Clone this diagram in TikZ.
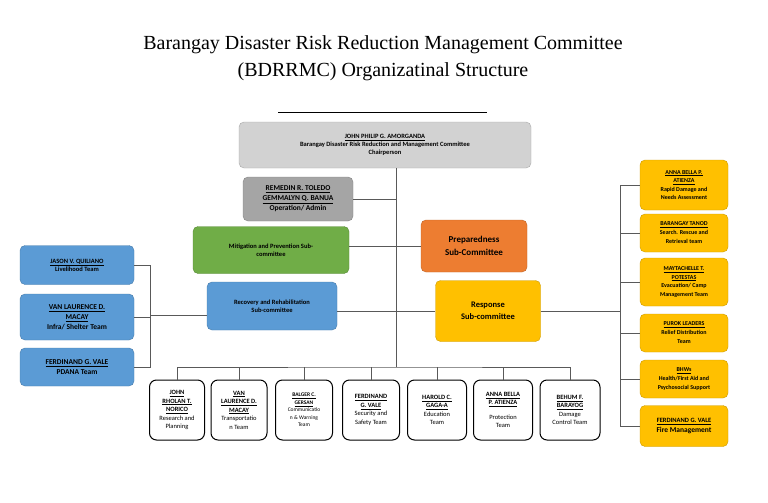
\documentclass[tikz,border=0pt]{standalone}
\usepackage{fontspec}
\setmainfont{Carlito}
\newfontfamily\titlefont{Liberation Serif}
\begin{document}
\begin{tikzpicture}[x=1pt,y=-1pt,
 box/.style={rounded corners=5pt,draw=#1!80!black,line width=0.4pt,fill=#1,align=center,inner sep=1pt,font=\fontsize{6.5}{8}\selectfont\bfseries},
 team/.style={rounded corners=7pt,draw=black,line width=1pt,fill=white,align=center,inner sep=1pt,font=\fontsize{6.5}{8.5}\selectfont},
 ln/.style={draw=gray!70!black,line width=0.6pt}]
\definecolor{cgray}{RGB}{210,210,210}
\definecolor{cdgray}{RGB}{165,165,165}
\definecolor{cgreen}{RGB}{112,173,71}
\definecolor{corange}{RGB}{237,125,49}
\definecolor{cblue}{RGB}{91,155,213}
\definecolor{cyellow}{RGB}{255,192,0}
\useasboundingbox (0,0) rectangle (768,503);
\node[font=\titlefont\fontsize{20}{27}\selectfont,align=center] (title) at (383,58) {Barangay Disaster Risk Reduction Management Committee\\(BDRRMC) Organizatinal Structure};
\coordinate (ula) at (278,112); \coordinate (ulb) at (487,112);
\draw[line width=0.6pt] (ula) -- (ulb);
% main boxes
\node[box=cgray,minimum width=292,minimum height=46] (chair) at (385,145) {\underline{JOHN PHILIP G. AMORGANDA}\\Barangay Disaster Risk Reduction and Management Committee\\Chairperson};
\node[box=cdgray,minimum width=110,minimum height=44,font=\fontsize{7.5}{10}\selectfont\bfseries] (ops) at (298,199) {\underline{REMEDIN R. TOLEDO}\\\underline{GEMMALYN Q. BANUA}\\Operation/ Admin};
\node[box=cgreen,minimum width=156,minimum height=47] (mit) at (271,250) {Mitigation and Prevention Sub-\\committee};
\node[box=corange,minimum width=106,minimum height=52,font=\fontsize{9}{13}\selectfont\bfseries] (prep) at (474,246) {Preparedness\\Sub-Committee};
\node[box=cblue,minimum width=130,minimum height=48] (rec) at (272,306) {Recovery and Rehabilitation\\Sub-committee};
\node[box=cyellow,minimum width=105,minimum height=61,font=\fontsize{8.5}{12}\selectfont\bfseries] (resp) at (488,311) {Response\\Sub-committee};
% left
\node[box=cblue,minimum width=114,minimum height=39] (l1) at (77,265) {\underline{JASON V. QUILIANO}\\Livelihood Team};
\node[box=cblue,minimum width=114,minimum height=46,font=\fontsize{7.5}{10}\selectfont\bfseries] (l2) at (77,317) {\underline{VAN LAURENCE D.}\\\underline{MACAY}\\Infra/ Shelter Team};
\node[box=cblue,minimum width=114,minimum height=38,font=\fontsize{7.5}{10}\selectfont\bfseries] (l3) at (77,367) {\underline{FERDINAND G. VALE}\\PDANA Team};
% right
\node[box=cyellow,minimum width=88,minimum height=50,font=\fontsize{6}{8.5}\selectfont\bfseries] (r1) at (684,185) {\underline{ANNA BELLA P.}\\\underline{ATIENZA}\\Rapid Damage and\\Needs Assessment};
\node[box=cyellow,minimum width=88,minimum height=38,font=\fontsize{6}{9}\selectfont\bfseries] (r2) at (684,233) {\underline{BARANGAY TANOD}\\Search. Rescue and\\Retrieval team};
\node[box=cyellow,minimum width=88,minimum height=48,font=\fontsize{6}{8.5}\selectfont\bfseries] (r3) at (684,282) {\underline{MAYTACHELLE T.}\\\underline{POTESTAS}\\Evacuation/ Camp\\Management Team};
\node[box=cyellow,minimum width=88,minimum height=38,font=\fontsize{6}{9}\selectfont\bfseries] (r4) at (684,333) {\underline{PUROK LEADERS}\\Relief Distribution\\Team};
\node[box=cyellow,minimum width=88,minimum height=38,font=\fontsize{6}{9}\selectfont\bfseries] (r5) at (684,379) {\underline{BHWs}\\Health/First Aid and\\Psychosocial Support};
\node[box=cyellow,minimum width=88,minimum height=41,font=\fontsize{6.5}{10}\selectfont\bfseries] (r6) at (684,426) {\underline{FERDINAND G. VALE}\\{\fontsize{7.5}{10}\selectfont Fire Management}};
% bottom
\node[team,minimum width=55,minimum height=60] (b1) at (177,410) {\textbf{\underline{JOHN}}\\\textbf{\underline{RHOLAN T.}}\\\textbf{\underline{NORICO}}\\Research and\\Planning};
\node[team,minimum width=56,minimum height=60] (b2) at (239,410) {\textbf{\underline{VAN}}\\\textbf{\underline{LAURENCE D.}}\\\textbf{\underline{MACAY}}\\Transportatio\\n Team};
\node[team,minimum width=57,minimum height=60,font=\fontsize{5.5}{7.5}\selectfont] (b3) at (304,410) {\textbf{\underline{BALGER C.}}\\\textbf{\underline{GERSAN}}\\Communicatio\\n \& Warning\\Team};
\node[team,minimum width=57,minimum height=60] (b4) at (371,410) {\textbf{\underline{FERDINAND}}\\\textbf{\underline{G. VALE}}\\Security and\\Safety Team};
\node[team,minimum width=59,minimum height=60] (b5) at (437,410) {\textbf{\underline{HAROLD C.}}\\\textbf{\underline{GAGA-A}}\\Education\\Team};
\node[team,minimum width=59,minimum height=60] (b6) at (503,410) {\textbf{\underline{ANNA BELLA}}\\\textbf{\underline{P. ATIENZA}}\\[6pt]Protection\\Team};
\node[team,minimum width=60,minimum height=60] (b7) at (570,410) {\textbf{\underline{BEHUM F.}}\\\textbf{\underline{BARAYOG}}\\Damage\\Control Team};
% connectors
\coordinate (bus) at (396,367);
\draw[ln] (chair.south -| bus) -- (bus);
\draw[ln] (b1.north) |- (bus) -| (b7.north);
\foreach \b in {b2,b3,b4,b5,b6} \draw[ln] (\b.north) -- (\b.north |- bus);
\draw[ln] (ops.east) -- (ops.east -| bus);
\draw[ln] (mit.east |- prep.west) -- (prep.west);
\draw[ln] (rec.east |- resp.west) -- (resp.west);
\coordinate (lb) at (150,315);
\draw[ln] (l1.east) -| (lb); \draw[ln] (l3.east) -| (lb); \draw[ln] (l2.east) -- (l2.east -| lb);
\draw[ln] (lb) -- (rec.west |- lb);
\coordinate (rb) at (620,311);
\draw[ln] (resp.east) -- (rb);
\draw[ln] (r1.west) -| (rb); \draw[ln] (r6.west) -| (rb);
\foreach \r in {r2,r3,r4,r5} \draw[ln] (\r.west) -- (\r.west -| rb);
\end{tikzpicture}
\end{document}
